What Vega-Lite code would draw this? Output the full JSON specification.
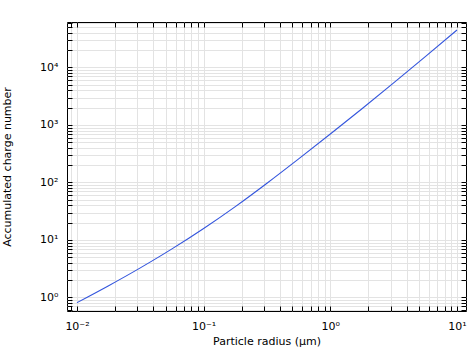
{
  "$schema": "https://vega.github.io/schema/vega-lite/v6.json",
  "autosize": "none",
  "width": 399,
  "height": 289,
  "padding": {"left": 67, "top": 22, "right": 8, "bottom": 40},
  "background": "white",
  "config": {
    "font": "DejaVu Sans",
    "view": {"stroke": "black", "strokeWidth": 1},
    "axis": {
      "labelFont": "DejaVu Sans",
      "titleFont": "DejaVu Sans",
      "labelFontSize": 11,
      "titleFontSize": 11,
      "titleFontWeight": "normal",
      "labelColor": "black",
      "titleColor": "black",
      "domain": false,
      "tickColor": "black",
      "tickWidth": 1,
      "gridColor": "#e3e3e3",
      "gridWidth": 1
    }
  },
  "data": {
    "values": [
      {"r": 0.01, "q": 0.813},
      {"r": 0.01778, "q": 1.603},
      {"r": 0.03162, "q": 3.273},
      {"r": 0.05623, "q": 7.0},
      {"r": 0.1, "q": 15.85},
      {"r": 0.1778, "q": 38.1},
      {"r": 0.3162, "q": 97.2},
      {"r": 0.5623, "q": 257.6},
      {"r": 1, "q": 696},
      {"r": 1.778, "q": 1917},
      {"r": 3.162, "q": 5401},
      {"r": 5.623, "q": 15490},
      {"r": 10, "q": 44930}
    ]
  },
  "layer": [
    {
      "mark": {"type": "line", "color": "#3355dd", "strokeWidth": 1.1, "interpolate": "monotone", "clip": true},
      "encoding": {
        "x": {
          "field": "r", "type": "quantitative",
          "scale": {"type": "log", "domain": [0.00834, 11.78], "nice": false},
          "axis": {
            "orient": "bottom",
            "title": "Particle radius (μm)",
            "titlePadding": 4,
            "values": [0.009, 0.01, 0.02, 0.03, 0.04, 0.05, 0.06, 0.07, 0.08, 0.09, 0.1, 0.2, 0.3, 0.4, 0.5, 0.6, 0.7, 0.8, 0.9, 1, 2, 3, 4, 5, 6, 7, 8, 9, 10],
            "labelExpr": "abs(log(datum.value)/LN10 - round(log(datum.value)/LN10)) < 1e-6 ? '10' + (round(log(datum.value)/LN10) < 0 ? '⁻' : '') + substring('⁰¹²³⁴⁵⁶⁷⁸⁹', abs(round(log(datum.value)/LN10)), abs(round(log(datum.value)/LN10)) + 1) : ''",
            "tickSize": -5,
            "labelPadding": 14,
            "labelFlush": false,
            "labelOverlap": false,
            "grid": true
          }
        },
        "y": {
          "field": "q", "type": "quantitative",
          "scale": {"type": "log", "domain": [0.582, 61800], "nice": false},
          "axis": {
            "orient": "left",
            "title": "Accumulated charge number",
            "titlePadding": 27,
            "values": [0.6, 0.7, 0.8, 0.9, 1, 2, 3, 4, 5, 6, 7, 8, 9, 10, 20, 30, 40, 50, 60, 70, 80, 90, 100, 200, 300, 400, 500, 600, 700, 800, 900, 1000, 2000, 3000, 4000, 5000, 6000, 7000, 8000, 9000, 10000, 20000, 30000, 40000, 50000, 60000],
            "labelExpr": "abs(log(datum.value)/LN10 - round(log(datum.value)/LN10)) < 1e-6 ? '10' + (round(log(datum.value)/LN10) < 0 ? '⁻' : '') + substring('⁰¹²³⁴⁵⁶⁷⁸⁹', abs(round(log(datum.value)/LN10)), abs(round(log(datum.value)/LN10)) + 1) : ''",
            "tickSize": -5,
            "labelPadding": 14,
            "labelFlush": false,
            "labelOverlap": false,
            "grid": true
          }
        }
      }
    },
    {
      "mark": {"type": "line", "opacity": 0},
      "encoding": {
        "x": {
          "field": "r", "type": "quantitative",
          "axis": {
            "orient": "top",
            "title": null,
            "labels": false,
            "grid": false,
            "values": [0.009, 0.01, 0.02, 0.03, 0.04, 0.05, 0.06, 0.07, 0.08, 0.09, 0.1, 0.2, 0.3, 0.4, 0.5, 0.6, 0.7, 0.8, 0.9, 1, 2, 3, 4, 5, 6, 7, 8, 9, 10],
            "tickSize": -5
          }
        },
        "y": {
          "field": "q", "type": "quantitative",
          "axis": {
            "orient": "right",
            "title": null,
            "labels": false,
            "grid": false,
            "values": [0.6, 0.7, 0.8, 0.9, 1, 2, 3, 4, 5, 6, 7, 8, 9, 10, 20, 30, 40, 50, 60, 70, 80, 90, 100, 200, 300, 400, 500, 600, 700, 800, 900, 1000, 2000, 3000, 4000, 5000, 6000, 7000, 8000, 9000, 10000, 20000, 30000, 40000, 50000, 60000],
            "tickSize": -5
          }
        }
      }
    }
  ],
  "resolve": {"axis": {"x": "independent", "y": "independent"}}
}
